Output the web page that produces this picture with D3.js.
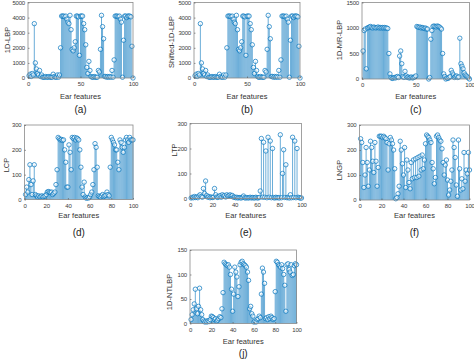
<!DOCTYPE html>
<html>
<head>
<meta charset="utf-8">
<script src="https://cdn.jsdelivr.net/npm/d3@7"></script>
<style>
  body { margin: 0; background: #fff; }
  svg { display: block; font-family: "Liberation Sans", Arial, sans-serif; }
</style>
</head>
<body>
<svg id="chart" width="474" height="361"></svg>
<script>
/* ---------------- data: one value per ear feature (1..100) ---------------- */

const lbp = [150,250,100,300,200,3600,1000,600,300,200, 500,100,200,50,50,50,100,50,50,100,
  50,50,50,250,100,50,50,200,50,200, 2000,4100,4100,4100,4050,4100,3900,3700,3600,4150,
  3200,1900,1800,2000,2400,4100,4100,4050,1500,4100, 4100,4100,3600,3200,2200,700,300,1100,500,100,
  50,50,100,50,50,50,500,400,1900,4150, 3400,2600,100,100,50,100,50,100,50,500,
  50,1200,4100,4100,4100,4050,4100,3900,3700,50, 2500,4100,4100,4000,4100,4100,4100,4050,2100,0];

const shiftedLbp = [150,250,100,300,200,3600,1000,600,300,200, 500,100,200,50,50,50,100,50,50,100,
  50,50,50,250,100,50,50,200,50,200, 2000,4100,4100,4100,4050,4100,3900,3700,3600,4150,
  3200,1900,1800,2000,2400,4100,4100,4050,1500,4100, 4100,4100,3600,3200,2200,700,300,1100,500,100,
  50,50,100,50,50,50,500,400,1900,4150, 3400,2600,100,100,50,100,50,100,50,500,
  50,1200,4100,4100,4100,4050,4100,3900,3700,50, 2500,4100,4100,4000,4100,4100,4100,4050,2100,0];

const mrLbp = [550,950,980,200,1000,1010,1020,1030,1010,1000, 1020,1010,1000,1010,1020,1000,1010,1000,1010,1000,
  1010,1000,1000,990,500,100,30,10,20,30, 20,40,50,30,450,550,300,50,30,150,
  60,30,40,20,30,40,20,30,40,60, 1030,1020,1010,1020,1000,1010,1000,990,1000,980,
  980,0,30,780,950,1030,1040,1030,1020,1040, 1030,1020,1000,980,500,100,50,0,20,10,
  30,50,170,120,80,30,50,60,30,40, 800,300,250,200,120,80,60,40,20,0];

const lcp = [20,50,30,80,140,60,20,75,140,20, 15,10,15,10,12,15,10,12,15,20,
  30,32,30,28,30,20,25,30,60,120, 250,245,240,242,238,240,200,150,50,50,
  220,190,120,250,245,250,240,248,245,240, 200,130,50,20,70,10,5,8,6,10,
  20,30,60,120,225,210,130,15,12,10, 15,20,12,15,18,30,20,15,130,250,
  240,230,220,200,200,150,120,240,230,210, 190,210,240,250,240,230,250,240,240,240];

const ltp = [2,5,3,8,4,6,3,10,15,8, 5,40,20,70,12,5,8,3,6,4,
  5,40,15,6,4,8,12,5,15,10, 12,6,15,10,12,15,10,12,5,6,
  3,5,2,4,3,2,5,10,3,2, 4,2,3,5,2,4,3,2,5,3,
  2,4,30,240,5,225,5,190,3,245, 5,230,3,200,4,2,5,3,4,2,
  255,3,100,195,4,135,3,5,2,15, 3,245,4,230,3,200,5,3,2,2];

const lngp = [245,230,150,50,100,210,150,55,120,235, 210,155,110,230,155,55,130,255,255,255,
  250,255,250,245,230,120,225,250,240,225, 200,125,5,10,25,55,235,200,145,100,
  210,50,160,120,70,45,150,85,160,90, 165,90,170,95,175,120,180,125,160,225,
  260,255,250,240,230,150,125,65,90,255, 260,250,240,235,205,150,100,140,160,80,
  20,40,75,120,240,210,170,60,15,240, 125,40,85,45,190,75,120,105,190,120];

const ntlbp = [8,18,28,40,70,30,20,35,72,28, 18,8,5,3,5,3,6,4,8,15,
  14,12,8,10,5,7,10,14,12,30, 63,125,122,120,118,120,115,100,70,25,
  60,115,105,95,55,75,120,125,127,122, 120,118,115,105,88,30,35,20,15,3,
  5,3,8,10,15,12,60,113,105,82, 10,12,8,14,10,15,12,8,10,65,
  127,125,120,118,115,120,112,100,78,25, 120,122,110,105,120,98,100,118,122,120];

/* ---------------- tick labels ---------------- */
const ticksLbp = [0, 1000, 2000, 3000, 4000, 5000];
const ticksMr = [0, 500, 1000, 1500];
const ticks300 = [0, 100, 200, 300];
const ticksNt = [0, 50, 100, 150];
const xTicksCoarse = [0, 50, 100];
const xTicksFine = [0, 20, 40, 60, 80, 100];

/* ---------------- panel layout ---------------- */
const panels = [
  { values: lbp, yTicks: ticksLbp, xTicks: xTicksCoarse, yLabel: '1D-LBP', tag: '(a)',
    left: 28, right: 133, top: 2.5, bottom: 78, yLabelX: 7, yLabelY: 40, xLabelY: 96, tagY: 109 },
  { values: shiftedLbp, yTicks: ticksLbp, xTicks: xTicksCoarse, yLabel: 'Shifted-1D-LBP', tag: '(b)',
    left: 194, right: 300, top: 2.5, bottom: 78, yLabelX: 171, yLabelY: 42, xLabelY: 96, tagY: 109 },
  { values: mrLbp, yTicks: ticksMr, xTicks: xTicksCoarse, yLabel: '1D-MR-LBP', tag: '(c)',
    left: 362, right: 469.5, top: 2.5, bottom: 79, yLabelX: 339, yLabelY: 40, xLabelY: 96, tagY: 109 },
  { values: lcp, yTicks: ticks300, xTicks: xTicksFine, yLabel: 'LCP', tag: '(d)',
    left: 24.5, right: 133, top: 125, bottom: 199.5, yLabelX: 6, yLabelY: 165, xLabelY: 215, tagY: 232 },
  { values: ltp, yTicks: ticks300, xTicks: xTicksFine, yLabel: 'LTP', tag: '(e)',
    left: 190, right: 301.5, top: 123.5, bottom: 198.5, yLabelX: 174, yLabelY: 150, xLabelY: 215, tagY: 232 },
  { values: lngp, yTicks: ticks300, xTicks: xTicksFine, yLabel: 'LNGP', tag: '(f)',
    left: 359.5, right: 469.5, top: 125, bottom: 200, yLabelX: 339, yLabelY: 170, xLabelY: 215, tagY: 232 },
  { values: ntlbp, yTicks: ticksNt, xTicks: xTicksFine, yLabel: '1D-NTLBP', tag: '(j)',
    left: 190, right: 296.5, top: 250, bottom: 323.5, yLabelX: 169, yLabelY: 292, xLabelY: 341, tagY: 353 }
];

const blue = '#0072BD';
const svg = d3.select('#chart');

function drawPanel(p) {
  const g = svg.append('g');
  const x = d3.scaleLinear().domain([0, 100]).range([p.left, p.right]);
  const y = d3.scaleLinear().domain([0, d3.max(p.yTicks)]).range([p.bottom, p.top]);

  // stems
  g.append('g').selectAll('line')
    .data(p.values)
    .enter().append('line')
    .attr('x1', (d, i) => x(i + 1))
    .attr('x2', (d, i) => x(i + 1))
    .attr('y1', y(0))
    .attr('y2', d => y(d))
    .attr('stroke', blue)
    .attr('stroke-opacity', 0.65)
    .attr('stroke-width', 0.9);

  // open circle markers
  g.append('g').selectAll('circle')
    .data(p.values)
    .enter().append('circle')
    .attr('cx', (d, i) => x(i + 1))
    .attr('cy', d => y(d))
    .attr('r', 2.2)
    .attr('fill', '#fff')
    .attr('fill-opacity', 0.5)
    .attr('stroke', blue)
    .attr('stroke-width', 0.7);

  // box
  g.append('rect')
    .attr('x', p.left).attr('y', p.top)
    .attr('width', p.right - p.left).attr('height', p.bottom - p.top)
    .attr('fill', 'none')
    .attr('stroke', '#8a8a8a')
    .attr('stroke-width', 0.8);

  const fmt = d3.format('d');
  const xAxis = g.append('g')
    .attr('transform', 'translate(0,' + p.bottom + ')')
    .call(d3.axisBottom(x).tickValues(p.xTicks).tickFormat(fmt).tickSize(-1.5).tickPadding(4));
  const yAxis = g.append('g')
    .attr('transform', 'translate(' + p.left + ',0)')
    .call(d3.axisLeft(y).tickValues(p.yTicks).tickFormat(fmt).tickSize(-1.5).tickPadding(3));

  [xAxis, yAxis].forEach(a => {
    a.select('.domain').remove();
    a.selectAll('.tick line').attr('stroke', '#555').attr('stroke-width', 0.6);
    a.selectAll('.tick text')
      .attr('fill', '#3a3a3a')
      .style('font-size', '6px')
      .style('letter-spacing', '-0.2px')
      .style('font-family', '"Liberation Sans", Arial, sans-serif');
  });

  // labels
  g.append('text')
    .attr('transform', 'translate(' + p.yLabelX + ',' + p.yLabelY + ') rotate(-90)')
    .attr('text-anchor', 'middle')
    .attr('dy', '0.35em')
    .attr('fill', '#333')
    .style('font-size', '7.5px')
    .text(p.yLabel);

  g.append('text')
    .attr('x', (p.left + p.right) / 2)
    .attr('y', p.xLabelY)
    .attr('text-anchor', 'middle')
    .attr('dy', '0.35em')
    .attr('fill', '#333')
    .style('font-size', '7.5px')
    .text('Ear features');

  g.append('text')
    .attr('x', (p.left + p.right) / 2)
    .attr('y', p.tagY)
    .attr('text-anchor', 'middle')
    .attr('dy', '0.35em')
    .attr('fill', '#222')
    .style('font-size', '10px')
    .text(p.tag);
}

panels.forEach(drawPanel);
</script>
</body>
</html>
